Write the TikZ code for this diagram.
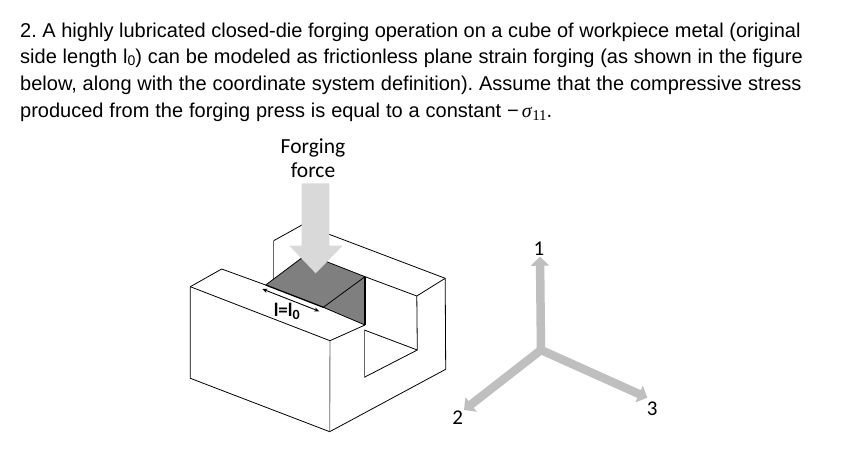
\documentclass[tikz,border=0pt]{standalone}
\usepackage{fontspec}
\setmainfont{Liberation Sans}
\newfontfamily\calib{Carlito}
\newfontfamily\mathserif{Liberation Serif}
\usetikzlibrary{arrows.meta}
\definecolor{darkface}{HTML}{7F7F7F}
\definecolor{pressgray}{HTML}{D9D9D9}
\definecolor{axisgray}{HTML}{BFBFBF}
\frenchspacing
\tikzset{
  para/.style={anchor=base west,inner sep=0pt,font=\fontsize{20}{24}\selectfont},
  figlabel/.style={anchor=base,inner sep=0pt,font=\calib\fontsize{21.5}{25}\selectfont},
  axlabel/.style={inner sep=0pt,font=\calib\fontsize{21}{25}\selectfont},
  edge/.style={draw=black,line width=0.8pt,line join=round},
  softedge/.style={draw=black!60,line width=0.9pt},
  heavyedge/.style={draw=black,line width=1.3pt},
  face/.style={fill=darkface,draw=none},
  dim/.style={draw=black,line width=0.9pt,{Stealth[length=5pt,width=4pt]}-{Stealth[length=5pt,width=4pt]}},
  axisline/.style={draw=axisgray,line width=8.5pt,-{Triangle[length=9pt,width=18pt]}}
}
\begin{document}
\begin{tikzpicture}[x=1pt,y=-1pt]
\useasboundingbox (0,0) rectangle (847,455);
% question text
\node[para] (l1) at (20,37) {2. A highly lubricated closed-die forging operation on a cube of workpiece metal (original};
\node[para] (l2) at (20,63.5) {\spaceskip=5.85pt side length l\raisebox{-2pt}{\fontsize{14}{16}\selectfont 0}) can be modeled as frictionless plane strain forging (as shown in the figure};
\node[para] (l3) at (20,90) {\spaceskip=5.85pt below, along with the coordinate system definition). Assume that the compressive stress};
\node[para] (l4) at (20,117) {\spaceskip=5.9pt produced from the forging press is equal to a constant −\kern3pt{\mathserif\itshape σ\kern0.5pt\raisebox{-3pt}{\upshape\fontsize{15}{16}\selectfont 11}}.};
% corners
\coordinate (a) at (190.3,286.7);
\coordinate (b) at (221.7,269);
\coordinate (c) at (265.7,285);
\coordinate (d) at (323.3,307.3);
\coordinate (e) at (330,340.7);
\coordinate (f) at (365,325);
\coordinate (g) at (365,276.7);
\coordinate (h) at (307,254);
\coordinate (i) at (190.3,378.3);
\coordinate (j) at (329.7,431.7);
\coordinate (k) at (445.7,369.3);
\coordinate (m) at (445.2,278.3);
\coordinate (n) at (416.8,296);
\coordinate (o) at (417.3,350);
\coordinate (p) at (364.3,330);
\coordinate (q) at (364.3,377.3);
\coordinate (r) at (273.7,240.7);
\coordinate (s) at (273.7,279);
\coordinate (t) at (303,224.4);
% die
\draw[edge] (a) -- (b) -- (c);
\draw[edge] (a) -- (e) -- (f);
\draw[edge] (a) -- (i) -- (j) -- (k) -- (m) -- (n);
\draw[softedge] (e) -- (j);
\draw[edge] (g) -- (n) -- (o) -- (p);
\draw[edge] (o) -- (q);
\draw[softedge] (p) -- (q);
\draw[softedge] (r) -- (s);
\draw[edge] (r) -- (t) -- (m);
% workpiece
\path[face] (c) -- (d) -- (g) -- (h) -- cycle;
\path[face] (d) -- (g) -- (f) -- cycle;
\draw[heavyedge] (c) -- (d);
\draw[edge] (c) -- (h) -- (g) -- (d) -- (f);
\draw[heavyedge] (g) -- (f);
% dimension
\coordinate (u) at (262.3,289);
\coordinate (v) at (319.3,311.3);
\draw[dim] (u) -- (v);
\node[inner sep=0pt,font=\calib\bfseries\fontsize{19}{21}\selectfont] (len) at (286.7,311) {l=l\raisebox{-3pt}{\fontsize{14}{16}\selectfont 0}};
% press
\path[fill=pressgray] (301.7,183.3) -- (329.3,183.3) -- (329.3,245.7) -- (342.7,245.7) -- (315.7,273.3) -- (289.3,245.7) -- (301.7,245.7) -- cycle;
\node[figlabel] (f1) at (313,153) {Forging};
\node[figlabel] (f2) at (313,177) {force};
% axes
\coordinate (O) at (541,350);
\coordinate (x1) at (540,256.7);
\coordinate (x2) at (464,410);
\coordinate (x3) at (647.3,397.7);
\draw[axisline] (O) -- (x1);
\draw[axisline] (O) -- (x2);
\draw[axisline] (O) -- (x3);
\node[axlabel] (n1) at (539,249) {1};
\node[axlabel] (n2) at (457.7,418) {2};
\node[axlabel] (n3) at (652.3,409) {3};
\end{tikzpicture}
\end{document}
